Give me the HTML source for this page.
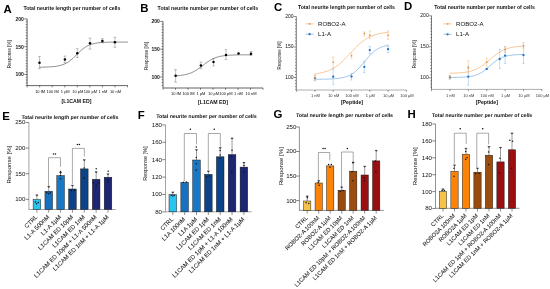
<!DOCTYPE html>
<html><head><meta charset="utf-8"><style>
html,body{margin:0;padding:0;background:#fff;}
svg{display:block;will-change:transform;}
text{font-family:"Liberation Sans", sans-serif;}
</style></head><body>
<svg width="550" height="289" viewBox="0 0 550 289">
<rect width="550" height="289" fill="#fff"/>
<line x1="27.1" y1="18.9" x2="27.1" y2="85.6" stroke="#111" stroke-width="0.65"/>
<line x1="25.8" y1="85.62" x2="27.1" y2="85.62" stroke="#111" stroke-width="0.5"/>
<line x1="25.8" y1="82.84" x2="27.1" y2="82.84" stroke="#111" stroke-width="0.5"/>
<line x1="25.8" y1="80.06" x2="27.1" y2="80.06" stroke="#111" stroke-width="0.5"/>
<line x1="25.8" y1="77.28" x2="27.1" y2="77.28" stroke="#111" stroke-width="0.5"/>
<line x1="24.3" y1="74.5" x2="27.1" y2="74.5" stroke="#111" stroke-width="0.55"/>
<text x="23.9" y="76.3" font-size="5" font-weight="bold" text-anchor="end" fill="#111" >100</text>
<line x1="25.8" y1="71.72" x2="27.1" y2="71.72" stroke="#111" stroke-width="0.5"/>
<line x1="25.8" y1="68.94" x2="27.1" y2="68.94" stroke="#111" stroke-width="0.5"/>
<line x1="25.8" y1="66.16" x2="27.1" y2="66.16" stroke="#111" stroke-width="0.5"/>
<line x1="25.8" y1="63.38" x2="27.1" y2="63.38" stroke="#111" stroke-width="0.5"/>
<line x1="25.8" y1="60.6" x2="27.1" y2="60.6" stroke="#111" stroke-width="0.5"/>
<line x1="25.8" y1="57.82" x2="27.1" y2="57.82" stroke="#111" stroke-width="0.5"/>
<line x1="25.8" y1="55.04" x2="27.1" y2="55.04" stroke="#111" stroke-width="0.5"/>
<line x1="25.8" y1="52.26" x2="27.1" y2="52.26" stroke="#111" stroke-width="0.5"/>
<line x1="25.8" y1="49.48" x2="27.1" y2="49.48" stroke="#111" stroke-width="0.5"/>
<line x1="24.3" y1="46.7" x2="27.1" y2="46.7" stroke="#111" stroke-width="0.55"/>
<text x="23.9" y="48.5" font-size="5" font-weight="bold" text-anchor="end" fill="#111" >150</text>
<line x1="25.8" y1="43.92" x2="27.1" y2="43.92" stroke="#111" stroke-width="0.5"/>
<line x1="25.8" y1="41.14" x2="27.1" y2="41.14" stroke="#111" stroke-width="0.5"/>
<line x1="25.8" y1="38.36" x2="27.1" y2="38.36" stroke="#111" stroke-width="0.5"/>
<line x1="25.8" y1="35.58" x2="27.1" y2="35.58" stroke="#111" stroke-width="0.5"/>
<line x1="25.8" y1="32.8" x2="27.1" y2="32.8" stroke="#111" stroke-width="0.5"/>
<line x1="25.8" y1="30.02" x2="27.1" y2="30.02" stroke="#111" stroke-width="0.5"/>
<line x1="25.8" y1="27.24" x2="27.1" y2="27.24" stroke="#111" stroke-width="0.5"/>
<line x1="25.8" y1="24.46" x2="27.1" y2="24.46" stroke="#111" stroke-width="0.5"/>
<line x1="25.8" y1="21.68" x2="27.1" y2="21.68" stroke="#111" stroke-width="0.5"/>
<line x1="24.3" y1="18.9" x2="27.1" y2="18.9" stroke="#111" stroke-width="0.55"/>
<text x="23.9" y="20.7" font-size="5" font-weight="bold" text-anchor="end" fill="#111" >200</text>
<line x1="27.1" y1="85.6" x2="127.8" y2="85.6" stroke="#111" stroke-width="0.65"/>
<line x1="27.1" y1="85.6" x2="27.1" y2="87.4" stroke="#111" stroke-width="0.5"/>
<line x1="39.65" y1="85.6" x2="39.65" y2="87.4" stroke="#111" stroke-width="0.5"/>
<line x1="52.2" y1="85.6" x2="52.2" y2="87.4" stroke="#111" stroke-width="0.5"/>
<line x1="64.75" y1="85.6" x2="64.75" y2="87.4" stroke="#111" stroke-width="0.5"/>
<line x1="77.3" y1="85.6" x2="77.3" y2="87.4" stroke="#111" stroke-width="0.5"/>
<line x1="89.85" y1="85.6" x2="89.85" y2="87.4" stroke="#111" stroke-width="0.5"/>
<line x1="102.4" y1="85.6" x2="102.4" y2="87.4" stroke="#111" stroke-width="0.5"/>
<line x1="114.95" y1="85.6" x2="114.95" y2="87.4" stroke="#111" stroke-width="0.5"/>
<line x1="127.5" y1="85.6" x2="127.5" y2="87.4" stroke="#111" stroke-width="0.5"/>
<text x="40.15" y="92.9" font-size="4" font-weight="normal" text-anchor="middle" fill="#111" >10 fM</text>
<text x="52.7" y="92.9" font-size="4" font-weight="normal" text-anchor="middle" fill="#111" >100 fM</text>
<text x="65.25" y="92.9" font-size="4" font-weight="normal" text-anchor="middle" fill="#111" >1 pM</text>
<text x="77.8" y="92.9" font-size="4" font-weight="normal" text-anchor="middle" fill="#111" >10 pM</text>
<text x="90.35" y="92.9" font-size="4" font-weight="normal" text-anchor="middle" fill="#111" >100 pM</text>
<text x="102.9" y="92.9" font-size="4" font-weight="normal" text-anchor="middle" fill="#111" >1 nM</text>
<text x="115.45" y="92.9" font-size="4" font-weight="normal" text-anchor="middle" fill="#111" >10 nM</text>
<text x="76.5" y="102.9" font-size="5.2" font-weight="bold" text-anchor="middle" fill="#111" >[L1CAM ED]</text>
<text transform="translate(10.6,54.3) rotate(-90)" font-size="4.5" text-anchor="middle" fill="#111">Response [%]</text>
<text x="23.4" y="10.1" font-size="5.2" font-weight="bold" text-anchor="start" fill="#111" >Total neurite length per number of cells</text>
<text x="3.6" y="12.8" font-size="11.4" font-weight="bold" text-anchor="start" fill="#000" >A</text>
<path d="M39.5,67.17 L40.98,67.15 L42.45,67.13 L43.92,67.1 L45.4,67.06 L46.88,67.01 L48.35,66.95 L49.83,66.88 L51.3,66.79 L52.77,66.67 L54.25,66.53 L55.73,66.35 L57.2,66.12 L58.67,65.85 L60.15,65.51 L61.62,65.09 L63.1,64.58 L64.58,63.98 L66.05,63.26 L67.53,62.41 L69,61.44 L70.47,60.33 L71.95,59.11 L73.42,57.77 L74.9,56.36 L76.38,54.9 L77.85,53.44 L79.33,52.01 L80.8,50.64 L82.28,49.37 L83.75,48.22 L85.22,47.2 L86.7,46.31 L88.17,45.55 L89.65,44.9 L91.12,44.36 L92.6,43.91 L94.08,43.55 L95.55,43.25 L97.03,43.01 L98.5,42.81 L99.97,42.66 L101.45,42.53 L102.92,42.43 L104.4,42.35 L105.88,42.29 L107.35,42.24 L108.83,42.2 L110.3,42.16 L111.78,42.14 L113.25,42.12 L114.72,42.1 L116.2,42.09 L117.67,42.08 L119.15,42.07 L120.62,42.06 L122.1,42.06 L123.58,42.06 L125.05,42.05 L126.53,42.05 L128,42.05" fill="none" stroke="#333" stroke-width="0.55"/>
<line x1="39.5" y1="56.4" x2="39.5" y2="68.5" stroke="#666" stroke-width="0.4"/>
<line x1="38.1" y1="56.4" x2="40.9" y2="56.4" stroke="#666" stroke-width="0.4"/>
<line x1="38.1" y1="68.5" x2="40.9" y2="68.5" stroke="#666" stroke-width="0.4"/>
<circle cx="39.5" cy="62.7" r="1.25" fill="#000"/>
<line x1="64.9" y1="56" x2="64.9" y2="62.7" stroke="#666" stroke-width="0.4"/>
<line x1="63.5" y1="56" x2="66.3" y2="56" stroke="#666" stroke-width="0.4"/>
<line x1="63.5" y1="62.7" x2="66.3" y2="62.7" stroke="#666" stroke-width="0.4"/>
<circle cx="64.9" cy="59.6" r="1.25" fill="#000"/>
<line x1="77.3" y1="48.7" x2="77.3" y2="57.6" stroke="#666" stroke-width="0.4"/>
<line x1="75.9" y1="48.7" x2="78.7" y2="48.7" stroke="#666" stroke-width="0.4"/>
<line x1="75.9" y1="57.6" x2="78.7" y2="57.6" stroke="#666" stroke-width="0.4"/>
<circle cx="77.3" cy="53.3" r="1.25" fill="#000"/>
<line x1="90" y1="38.2" x2="90" y2="49.1" stroke="#666" stroke-width="0.4"/>
<line x1="88.6" y1="38.2" x2="91.4" y2="38.2" stroke="#666" stroke-width="0.4"/>
<line x1="88.6" y1="49.1" x2="91.4" y2="49.1" stroke="#666" stroke-width="0.4"/>
<circle cx="90" cy="43.3" r="1.25" fill="#000"/>
<line x1="102.4" y1="38.7" x2="102.4" y2="42.7" stroke="#666" stroke-width="0.4"/>
<line x1="101" y1="38.7" x2="103.8" y2="38.7" stroke="#666" stroke-width="0.4"/>
<line x1="101" y1="42.7" x2="103.8" y2="42.7" stroke="#666" stroke-width="0.4"/>
<circle cx="102.4" cy="40.9" r="1.25" fill="#000"/>
<line x1="114.9" y1="37.3" x2="114.9" y2="47.3" stroke="#666" stroke-width="0.4"/>
<line x1="113.5" y1="37.3" x2="116.3" y2="37.3" stroke="#666" stroke-width="0.4"/>
<line x1="113.5" y1="47.3" x2="116.3" y2="47.3" stroke="#666" stroke-width="0.4"/>
<circle cx="114.9" cy="42.2" r="1.25" fill="#000"/>
<line x1="163" y1="21.4" x2="163" y2="88" stroke="#111" stroke-width="0.65"/>
<line x1="161.7" y1="85.34" x2="163" y2="85.34" stroke="#111" stroke-width="0.5"/>
<line x1="161.7" y1="82.56" x2="163" y2="82.56" stroke="#111" stroke-width="0.5"/>
<line x1="161.7" y1="79.78" x2="163" y2="79.78" stroke="#111" stroke-width="0.5"/>
<line x1="160.2" y1="77" x2="163" y2="77" stroke="#111" stroke-width="0.55"/>
<text x="159.8" y="78.8" font-size="5" font-weight="bold" text-anchor="end" fill="#111" >100</text>
<line x1="161.7" y1="74.22" x2="163" y2="74.22" stroke="#111" stroke-width="0.5"/>
<line x1="161.7" y1="71.44" x2="163" y2="71.44" stroke="#111" stroke-width="0.5"/>
<line x1="161.7" y1="68.66" x2="163" y2="68.66" stroke="#111" stroke-width="0.5"/>
<line x1="161.7" y1="65.88" x2="163" y2="65.88" stroke="#111" stroke-width="0.5"/>
<line x1="161.7" y1="63.1" x2="163" y2="63.1" stroke="#111" stroke-width="0.5"/>
<line x1="161.7" y1="60.32" x2="163" y2="60.32" stroke="#111" stroke-width="0.5"/>
<line x1="161.7" y1="57.54" x2="163" y2="57.54" stroke="#111" stroke-width="0.5"/>
<line x1="161.7" y1="54.76" x2="163" y2="54.76" stroke="#111" stroke-width="0.5"/>
<line x1="161.7" y1="51.98" x2="163" y2="51.98" stroke="#111" stroke-width="0.5"/>
<line x1="160.2" y1="49.2" x2="163" y2="49.2" stroke="#111" stroke-width="0.55"/>
<text x="159.8" y="51" font-size="5" font-weight="bold" text-anchor="end" fill="#111" >150</text>
<line x1="161.7" y1="46.42" x2="163" y2="46.42" stroke="#111" stroke-width="0.5"/>
<line x1="161.7" y1="43.64" x2="163" y2="43.64" stroke="#111" stroke-width="0.5"/>
<line x1="161.7" y1="40.86" x2="163" y2="40.86" stroke="#111" stroke-width="0.5"/>
<line x1="161.7" y1="38.08" x2="163" y2="38.08" stroke="#111" stroke-width="0.5"/>
<line x1="161.7" y1="35.3" x2="163" y2="35.3" stroke="#111" stroke-width="0.5"/>
<line x1="161.7" y1="32.52" x2="163" y2="32.52" stroke="#111" stroke-width="0.5"/>
<line x1="161.7" y1="29.74" x2="163" y2="29.74" stroke="#111" stroke-width="0.5"/>
<line x1="161.7" y1="26.96" x2="163" y2="26.96" stroke="#111" stroke-width="0.5"/>
<line x1="161.7" y1="24.18" x2="163" y2="24.18" stroke="#111" stroke-width="0.5"/>
<line x1="160.2" y1="21.4" x2="163" y2="21.4" stroke="#111" stroke-width="0.55"/>
<text x="159.8" y="23.2" font-size="5" font-weight="bold" text-anchor="end" fill="#111" >200</text>
<line x1="163" y1="88" x2="263" y2="88" stroke="#111" stroke-width="0.65"/>
<line x1="163" y1="88" x2="163" y2="89.8" stroke="#111" stroke-width="0.5"/>
<line x1="175.5" y1="88" x2="175.5" y2="89.8" stroke="#111" stroke-width="0.5"/>
<line x1="188" y1="88" x2="188" y2="89.8" stroke="#111" stroke-width="0.5"/>
<line x1="200.5" y1="88" x2="200.5" y2="89.8" stroke="#111" stroke-width="0.5"/>
<line x1="213" y1="88" x2="213" y2="89.8" stroke="#111" stroke-width="0.5"/>
<line x1="225.5" y1="88" x2="225.5" y2="89.8" stroke="#111" stroke-width="0.5"/>
<line x1="238" y1="88" x2="238" y2="89.8" stroke="#111" stroke-width="0.5"/>
<line x1="250.5" y1="88" x2="250.5" y2="89.8" stroke="#111" stroke-width="0.5"/>
<line x1="263" y1="88" x2="263" y2="89.8" stroke="#111" stroke-width="0.5"/>
<text x="176" y="95" font-size="4" font-weight="normal" text-anchor="middle" fill="#111" >10 fM</text>
<text x="188.5" y="95" font-size="4" font-weight="normal" text-anchor="middle" fill="#111" >100 fM</text>
<text x="201" y="95" font-size="4" font-weight="normal" text-anchor="middle" fill="#111" >1 pM</text>
<text x="213.5" y="95" font-size="4" font-weight="normal" text-anchor="middle" fill="#111" >10 pM</text>
<text x="226" y="95" font-size="4" font-weight="normal" text-anchor="middle" fill="#111" >100 pM</text>
<text x="238.5" y="95" font-size="4" font-weight="normal" text-anchor="middle" fill="#111" >1 nM</text>
<text x="251" y="95" font-size="4" font-weight="normal" text-anchor="middle" fill="#111" >10 nM</text>
<text x="213" y="104.2" font-size="5.2" font-weight="bold" text-anchor="middle" fill="#111" >[L1CAM ED]</text>
<text transform="translate(147.5,56.1) rotate(-90)" font-size="4.5" text-anchor="middle" fill="#111">Response [%]</text>
<text x="157.6" y="10" font-size="5.2" font-weight="bold" text-anchor="start" fill="#111" >Total neurite number per number of cells</text>
<text x="140.3" y="12.3" font-size="11.4" font-weight="bold" text-anchor="start" fill="#000" >B</text>
<path d="M175.6,75.79 L176.86,75.71 L178.11,75.62 L179.37,75.5 L180.63,75.37 L181.88,75.21 L183.14,75.02 L184.4,74.8 L185.65,74.54 L186.91,74.24 L188.17,73.88 L189.42,73.48 L190.68,73.02 L191.94,72.5 L193.19,71.9 L194.45,71.25 L195.71,70.52 L196.96,69.73 L198.22,68.88 L199.48,67.99 L200.73,67.05 L201.99,66.09 L203.25,65.12 L204.5,64.15 L205.76,63.21 L207.02,62.3 L208.27,61.44 L209.53,60.63 L210.79,59.89 L212.04,59.22 L213.3,58.61 L214.56,58.07 L215.81,57.59 L217.07,57.18 L218.33,56.81 L219.58,56.5 L220.84,56.23 L222.1,56 L223.35,55.81 L224.61,55.64 L225.87,55.5 L227.12,55.38 L228.38,55.28 L229.64,55.2 L230.89,55.12 L232.15,55.06 L233.41,55.01 L234.66,54.97 L235.92,54.94 L237.18,54.91 L238.43,54.88 L239.69,54.86 L240.95,54.85 L242.2,54.83 L243.46,54.82 L244.72,54.81 L245.97,54.8 L247.23,54.8 L248.49,54.79 L249.74,54.78 L251,54.78" fill="none" stroke="#333" stroke-width="0.55"/>
<line x1="175.6" y1="69.6" x2="175.6" y2="82.1" stroke="#666" stroke-width="0.4"/>
<line x1="174.2" y1="69.6" x2="177" y2="69.6" stroke="#666" stroke-width="0.4"/>
<line x1="174.2" y1="82.1" x2="177" y2="82.1" stroke="#666" stroke-width="0.4"/>
<circle cx="175.6" cy="75.8" r="1.25" fill="#000"/>
<line x1="200.9" y1="62.1" x2="200.9" y2="68.6" stroke="#666" stroke-width="0.4"/>
<line x1="199.5" y1="62.1" x2="202.3" y2="62.1" stroke="#666" stroke-width="0.4"/>
<line x1="199.5" y1="68.6" x2="202.3" y2="68.6" stroke="#666" stroke-width="0.4"/>
<circle cx="200.9" cy="65.5" r="1.25" fill="#000"/>
<line x1="213.5" y1="58.6" x2="213.5" y2="65.9" stroke="#666" stroke-width="0.4"/>
<line x1="212.1" y1="58.6" x2="214.9" y2="58.6" stroke="#666" stroke-width="0.4"/>
<line x1="212.1" y1="65.9" x2="214.9" y2="65.9" stroke="#666" stroke-width="0.4"/>
<circle cx="213.5" cy="62.1" r="1.25" fill="#000"/>
<line x1="226" y1="49.6" x2="226" y2="59.6" stroke="#666" stroke-width="0.4"/>
<line x1="224.6" y1="49.6" x2="227.4" y2="49.6" stroke="#666" stroke-width="0.4"/>
<line x1="224.6" y1="59.6" x2="227.4" y2="59.6" stroke="#666" stroke-width="0.4"/>
<circle cx="226" cy="54.9" r="1.25" fill="#000"/>
<circle cx="238.5" cy="53.4" r="1.25" fill="#000"/>
<line x1="251" y1="51.4" x2="251" y2="55.6" stroke="#666" stroke-width="0.4"/>
<line x1="249.6" y1="51.4" x2="252.4" y2="51.4" stroke="#666" stroke-width="0.4"/>
<line x1="249.6" y1="55.6" x2="252.4" y2="55.6" stroke="#666" stroke-width="0.4"/>
<circle cx="251" cy="53.8" r="1.25" fill="#000"/>
<line x1="296.3" y1="16.5" x2="296.3" y2="90" stroke="#333" stroke-width="0.65"/>
<line x1="295" y1="89.7" x2="296.3" y2="89.7" stroke="#333" stroke-width="0.5"/>
<line x1="295" y1="86.65" x2="296.3" y2="86.65" stroke="#333" stroke-width="0.5"/>
<line x1="295" y1="83.6" x2="296.3" y2="83.6" stroke="#333" stroke-width="0.5"/>
<line x1="295" y1="80.55" x2="296.3" y2="80.55" stroke="#333" stroke-width="0.5"/>
<line x1="293.5" y1="77.5" x2="296.3" y2="77.5" stroke="#333" stroke-width="0.55"/>
<text x="293.5" y="78.7" font-size="5" font-weight="normal" text-anchor="end" fill="#111" >100</text>
<line x1="295" y1="74.45" x2="296.3" y2="74.45" stroke="#333" stroke-width="0.5"/>
<line x1="295" y1="71.4" x2="296.3" y2="71.4" stroke="#333" stroke-width="0.5"/>
<line x1="295" y1="68.35" x2="296.3" y2="68.35" stroke="#333" stroke-width="0.5"/>
<line x1="295" y1="65.3" x2="296.3" y2="65.3" stroke="#333" stroke-width="0.5"/>
<line x1="295" y1="62.25" x2="296.3" y2="62.25" stroke="#333" stroke-width="0.5"/>
<line x1="295" y1="59.2" x2="296.3" y2="59.2" stroke="#333" stroke-width="0.5"/>
<line x1="295" y1="56.15" x2="296.3" y2="56.15" stroke="#333" stroke-width="0.5"/>
<line x1="295" y1="53.1" x2="296.3" y2="53.1" stroke="#333" stroke-width="0.5"/>
<line x1="295" y1="50.05" x2="296.3" y2="50.05" stroke="#333" stroke-width="0.5"/>
<line x1="293.5" y1="47" x2="296.3" y2="47" stroke="#333" stroke-width="0.55"/>
<text x="293.5" y="48.2" font-size="5" font-weight="normal" text-anchor="end" fill="#111" >150</text>
<line x1="295" y1="43.95" x2="296.3" y2="43.95" stroke="#333" stroke-width="0.5"/>
<line x1="295" y1="40.9" x2="296.3" y2="40.9" stroke="#333" stroke-width="0.5"/>
<line x1="295" y1="37.85" x2="296.3" y2="37.85" stroke="#333" stroke-width="0.5"/>
<line x1="295" y1="34.8" x2="296.3" y2="34.8" stroke="#333" stroke-width="0.5"/>
<line x1="295" y1="31.75" x2="296.3" y2="31.75" stroke="#333" stroke-width="0.5"/>
<line x1="295" y1="28.7" x2="296.3" y2="28.7" stroke="#333" stroke-width="0.5"/>
<line x1="295" y1="25.65" x2="296.3" y2="25.65" stroke="#333" stroke-width="0.5"/>
<line x1="295" y1="22.6" x2="296.3" y2="22.6" stroke="#333" stroke-width="0.5"/>
<line x1="295" y1="19.55" x2="296.3" y2="19.55" stroke="#333" stroke-width="0.5"/>
<line x1="293.5" y1="16.5" x2="296.3" y2="16.5" stroke="#333" stroke-width="0.55"/>
<text x="293.5" y="17.7" font-size="5" font-weight="normal" text-anchor="end" fill="#111" >200</text>
<line x1="296.3" y1="90" x2="406.6" y2="90" stroke="#999" stroke-width="0.8"/>
<line x1="296.6" y1="90" x2="296.6" y2="91.8" stroke="#333" stroke-width="0.5"/>
<line x1="314.9" y1="90" x2="314.9" y2="91.8" stroke="#333" stroke-width="0.5"/>
<line x1="333.2" y1="90" x2="333.2" y2="91.8" stroke="#333" stroke-width="0.5"/>
<line x1="351.5" y1="90" x2="351.5" y2="91.8" stroke="#333" stroke-width="0.5"/>
<line x1="369.8" y1="90" x2="369.8" y2="91.8" stroke="#333" stroke-width="0.5"/>
<line x1="388.1" y1="90" x2="388.1" y2="91.8" stroke="#333" stroke-width="0.5"/>
<line x1="406.4" y1="90" x2="406.4" y2="91.8" stroke="#333" stroke-width="0.5"/>
<text x="315.4" y="97.3" font-size="4" font-weight="normal" text-anchor="middle" fill="#333" >1 nM</text>
<text x="333.7" y="97.3" font-size="4" font-weight="normal" text-anchor="middle" fill="#333" >10 nM</text>
<text x="352" y="97.3" font-size="4" font-weight="normal" text-anchor="middle" fill="#333" >100 nM</text>
<text x="370.3" y="97.3" font-size="4" font-weight="normal" text-anchor="middle" fill="#333" >1 µM</text>
<text x="388.6" y="97.3" font-size="4" font-weight="normal" text-anchor="middle" fill="#333" >10 µM</text>
<text x="406.9" y="97.3" font-size="4" font-weight="normal" text-anchor="middle" fill="#333" >100 µM</text>
<text x="352" y="104.2" font-size="5.2" font-weight="bold" text-anchor="middle" fill="#111" >[Peptide]</text>
<text transform="translate(280.9,55.5) rotate(-90)" font-size="4.5" text-anchor="middle" fill="#111">Response [%]</text>
<text x="297.9" y="9.2" font-size="5.2" font-weight="bold" text-anchor="start" fill="#111" >Total neurite length per number of cells</text>
<text x="274" y="10.9" font-size="11.4" font-weight="bold" text-anchor="start" fill="#000" >C</text>
<line x1="305.6" y1="23.9" x2="313.6" y2="23.9" stroke="#F5A04F" stroke-width="0.6"/>
<rect x="308.9" y="23.2" width="1.4" height="1.4" fill="#F08A24"/>
<text x="318.1" y="26.05" font-size="6.1" font-weight="normal" text-anchor="start" fill="#111" >ROBO2-A</text>
<line x1="305.6" y1="34.2" x2="313.6" y2="34.2" stroke="#5D9FDD" stroke-width="0.6"/>
<circle cx="309.6" cy="34.2" r="1.15" fill="#1F6FC5"/>
<text x="318.1" y="36.35" font-size="6.1" font-weight="normal" text-anchor="start" fill="#111" >L1-A</text>
<path d="M314.9,73.87 L316.13,73.71 L317.36,73.53 L318.59,73.32 L319.82,73.09 L321.05,72.83 L322.28,72.55 L323.51,72.23 L324.74,71.88 L325.97,71.49 L327.2,71.06 L328.43,70.58 L329.66,70.06 L330.89,69.49 L332.12,68.86 L333.35,68.18 L334.58,67.44 L335.81,66.63 L337.04,65.77 L338.27,64.85 L339.5,63.86 L340.73,62.82 L341.96,61.72 L343.19,60.56 L344.42,59.36 L345.65,58.12 L346.88,56.85 L348.11,55.55 L349.34,54.23 L350.57,52.91 L351.8,51.58 L353.03,50.27 L354.26,48.99 L355.49,47.73 L356.72,46.51 L357.95,45.33 L359.18,44.2 L360.41,43.13 L361.64,42.12 L362.87,41.16 L364.1,40.27 L365.33,39.44 L366.56,38.67 L367.79,37.96 L369.02,37.31 L370.25,36.71 L371.48,36.16 L372.71,35.66 L373.94,35.21 L375.17,34.8 L376.4,34.43 L377.63,34.1 L378.86,33.8 L380.09,33.53 L381.32,33.29 L382.55,33.07 L383.78,32.88 L385.01,32.7 L386.24,32.55 L387.47,32.41 L388.7,32.29" fill="none" stroke="#F5A04F" stroke-width="0.6"/>
<path d="M314.9,79.26 L316.13,79.25 L317.36,79.25 L318.59,79.24 L319.82,79.22 L321.05,79.21 L322.28,79.19 L323.51,79.18 L324.74,79.15 L325.97,79.13 L327.2,79.09 L328.43,79.06 L329.66,79.01 L330.89,78.96 L332.12,78.9 L333.35,78.82 L334.58,78.74 L335.81,78.63 L337.04,78.51 L338.27,78.37 L339.5,78.21 L340.73,78.01 L341.96,77.79 L343.19,77.52 L344.42,77.22 L345.65,76.86 L346.88,76.45 L348.11,75.97 L349.34,75.42 L350.57,74.8 L351.8,74.1 L353.03,73.3 L354.26,72.41 L355.49,71.42 L356.72,70.34 L357.95,69.17 L359.18,67.9 L360.41,66.56 L361.64,65.15 L362.87,63.69 L364.1,62.21 L365.33,60.71 L366.56,59.23 L367.79,57.78 L369.02,56.39 L370.25,55.06 L371.48,53.81 L372.71,52.65 L373.94,51.58 L375.17,50.62 L376.4,49.74 L377.63,48.97 L378.86,48.28 L380.09,47.67 L381.32,47.14 L382.55,46.67 L383.78,46.27 L385.01,45.92 L386.24,45.62 L387.47,45.37 L388.7,45.15" fill="none" stroke="#5D9FDD" stroke-width="0.6"/>
<line x1="314.9" y1="75.5" x2="314.9" y2="80.5" stroke="#7BB0E4" stroke-width="0.45"/>
<line x1="313.7" y1="75.5" x2="316.1" y2="75.5" stroke="#7BB0E4" stroke-width="0.45"/>
<line x1="313.7" y1="80.5" x2="316.1" y2="80.5" stroke="#7BB0E4" stroke-width="0.45"/>
<circle cx="314.9" cy="78.2" r="1.15" fill="#1F6FC5"/>
<line x1="333.2" y1="69.1" x2="333.2" y2="84.4" stroke="#7BB0E4" stroke-width="0.45"/>
<line x1="332" y1="69.1" x2="334.4" y2="69.1" stroke="#7BB0E4" stroke-width="0.45"/>
<line x1="332" y1="84.4" x2="334.4" y2="84.4" stroke="#7BB0E4" stroke-width="0.45"/>
<circle cx="333.2" cy="76.7" r="1.15" fill="#1F6FC5"/>
<line x1="351.5" y1="73.5" x2="351.5" y2="80" stroke="#7BB0E4" stroke-width="0.45"/>
<line x1="350.3" y1="73.5" x2="352.7" y2="73.5" stroke="#7BB0E4" stroke-width="0.45"/>
<line x1="350.3" y1="80" x2="352.7" y2="80" stroke="#7BB0E4" stroke-width="0.45"/>
<circle cx="351.5" cy="76.5" r="1.15" fill="#1F6FC5"/>
<line x1="364.3" y1="61.3" x2="364.3" y2="72.6" stroke="#7BB0E4" stroke-width="0.45"/>
<line x1="363.1" y1="61.3" x2="365.5" y2="61.3" stroke="#7BB0E4" stroke-width="0.45"/>
<line x1="363.1" y1="72.6" x2="365.5" y2="72.6" stroke="#7BB0E4" stroke-width="0.45"/>
<circle cx="364.3" cy="66.9" r="1.15" fill="#1F6FC5"/>
<line x1="369.8" y1="46.6" x2="369.8" y2="53.5" stroke="#7BB0E4" stroke-width="0.45"/>
<line x1="368.6" y1="46.6" x2="371" y2="46.6" stroke="#7BB0E4" stroke-width="0.45"/>
<line x1="368.6" y1="53.5" x2="371" y2="53.5" stroke="#7BB0E4" stroke-width="0.45"/>
<circle cx="369.8" cy="50.1" r="1.15" fill="#1F6FC5"/>
<line x1="388.1" y1="46.5" x2="388.1" y2="52.5" stroke="#7BB0E4" stroke-width="0.45"/>
<line x1="386.9" y1="46.5" x2="389.3" y2="46.5" stroke="#7BB0E4" stroke-width="0.45"/>
<line x1="386.9" y1="52.5" x2="389.3" y2="52.5" stroke="#7BB0E4" stroke-width="0.45"/>
<circle cx="388.1" cy="49.2" r="1.15" fill="#1F6FC5"/>
<line x1="314.9" y1="74.7" x2="314.9" y2="80.9" stroke="#F3B27A" stroke-width="0.45"/>
<line x1="313.7" y1="74.7" x2="316.1" y2="74.7" stroke="#F3B27A" stroke-width="0.45"/>
<line x1="313.7" y1="80.9" x2="316.1" y2="80.9" stroke="#F3B27A" stroke-width="0.45"/>
<rect x="314.15" y="76.95" width="1.5" height="1.5" fill="#F08A24"/>
<line x1="333.2" y1="57" x2="333.2" y2="67.4" stroke="#F3B27A" stroke-width="0.45"/>
<line x1="332" y1="57" x2="334.4" y2="57" stroke="#F3B27A" stroke-width="0.45"/>
<line x1="332" y1="67.4" x2="334.4" y2="67.4" stroke="#F3B27A" stroke-width="0.45"/>
<rect x="332.45" y="61.45" width="1.5" height="1.5" fill="#F08A24"/>
<line x1="351.5" y1="53.5" x2="351.5" y2="58.5" stroke="#F3B27A" stroke-width="0.45"/>
<line x1="350.3" y1="53.5" x2="352.7" y2="53.5" stroke="#F3B27A" stroke-width="0.45"/>
<line x1="350.3" y1="58.5" x2="352.7" y2="58.5" stroke="#F3B27A" stroke-width="0.45"/>
<rect x="350.75" y="55.05" width="1.5" height="1.5" fill="#F08A24"/>
<line x1="364.3" y1="31.9" x2="364.3" y2="36.2" stroke="#F3B27A" stroke-width="0.45"/>
<line x1="363.1" y1="31.9" x2="365.5" y2="31.9" stroke="#F3B27A" stroke-width="0.45"/>
<line x1="363.1" y1="36.2" x2="365.5" y2="36.2" stroke="#F3B27A" stroke-width="0.45"/>
<rect x="363.55" y="32.95" width="1.5" height="1.5" fill="#F08A24"/>
<line x1="369.8" y1="31" x2="369.8" y2="38.8" stroke="#F3B27A" stroke-width="0.45"/>
<line x1="368.6" y1="31" x2="371" y2="31" stroke="#F3B27A" stroke-width="0.45"/>
<line x1="368.6" y1="38.8" x2="371" y2="38.8" stroke="#F3B27A" stroke-width="0.45"/>
<rect x="369.05" y="34.65" width="1.5" height="1.5" fill="#F08A24"/>
<line x1="388.1" y1="31" x2="388.1" y2="39.5" stroke="#F3B27A" stroke-width="0.45"/>
<line x1="386.9" y1="31" x2="389.3" y2="31" stroke="#F3B27A" stroke-width="0.45"/>
<line x1="386.9" y1="39.5" x2="389.3" y2="39.5" stroke="#F3B27A" stroke-width="0.45"/>
<rect x="387.35" y="34.65" width="1.5" height="1.5" fill="#F08A24"/>
<line x1="431.5" y1="15.8" x2="431.5" y2="89.4" stroke="#333" stroke-width="0.65"/>
<line x1="430.2" y1="87.1" x2="431.5" y2="87.1" stroke="#333" stroke-width="0.5"/>
<line x1="430.2" y1="84" x2="431.5" y2="84" stroke="#333" stroke-width="0.5"/>
<line x1="430.2" y1="80.9" x2="431.5" y2="80.9" stroke="#333" stroke-width="0.5"/>
<line x1="428.7" y1="77.8" x2="431.5" y2="77.8" stroke="#333" stroke-width="0.55"/>
<text x="428.7" y="79" font-size="5" font-weight="normal" text-anchor="end" fill="#111" >100</text>
<line x1="430.2" y1="74.7" x2="431.5" y2="74.7" stroke="#333" stroke-width="0.5"/>
<line x1="430.2" y1="71.6" x2="431.5" y2="71.6" stroke="#333" stroke-width="0.5"/>
<line x1="430.2" y1="68.5" x2="431.5" y2="68.5" stroke="#333" stroke-width="0.5"/>
<line x1="430.2" y1="65.4" x2="431.5" y2="65.4" stroke="#333" stroke-width="0.5"/>
<line x1="430.2" y1="62.3" x2="431.5" y2="62.3" stroke="#333" stroke-width="0.5"/>
<line x1="430.2" y1="59.2" x2="431.5" y2="59.2" stroke="#333" stroke-width="0.5"/>
<line x1="430.2" y1="56.1" x2="431.5" y2="56.1" stroke="#333" stroke-width="0.5"/>
<line x1="430.2" y1="53" x2="431.5" y2="53" stroke="#333" stroke-width="0.5"/>
<line x1="430.2" y1="49.9" x2="431.5" y2="49.9" stroke="#333" stroke-width="0.5"/>
<line x1="428.7" y1="46.8" x2="431.5" y2="46.8" stroke="#333" stroke-width="0.55"/>
<text x="428.7" y="48" font-size="5" font-weight="normal" text-anchor="end" fill="#111" >150</text>
<line x1="430.2" y1="43.7" x2="431.5" y2="43.7" stroke="#333" stroke-width="0.5"/>
<line x1="430.2" y1="40.6" x2="431.5" y2="40.6" stroke="#333" stroke-width="0.5"/>
<line x1="430.2" y1="37.5" x2="431.5" y2="37.5" stroke="#333" stroke-width="0.5"/>
<line x1="430.2" y1="34.4" x2="431.5" y2="34.4" stroke="#333" stroke-width="0.5"/>
<line x1="430.2" y1="31.3" x2="431.5" y2="31.3" stroke="#333" stroke-width="0.5"/>
<line x1="430.2" y1="28.2" x2="431.5" y2="28.2" stroke="#333" stroke-width="0.5"/>
<line x1="430.2" y1="25.1" x2="431.5" y2="25.1" stroke="#333" stroke-width="0.5"/>
<line x1="430.2" y1="22" x2="431.5" y2="22" stroke="#333" stroke-width="0.5"/>
<line x1="430.2" y1="18.9" x2="431.5" y2="18.9" stroke="#333" stroke-width="0.5"/>
<line x1="428.7" y1="15.8" x2="431.5" y2="15.8" stroke="#333" stroke-width="0.55"/>
<text x="428.7" y="17" font-size="5" font-weight="normal" text-anchor="end" fill="#111" >200</text>
<line x1="431.5" y1="89.4" x2="542.3" y2="89.4" stroke="#999" stroke-width="0.8"/>
<line x1="431.5" y1="89.4" x2="431.5" y2="91.2" stroke="#333" stroke-width="0.5"/>
<line x1="449.9" y1="89.4" x2="449.9" y2="91.2" stroke="#333" stroke-width="0.5"/>
<line x1="468.3" y1="89.4" x2="468.3" y2="91.2" stroke="#333" stroke-width="0.5"/>
<line x1="486.7" y1="89.4" x2="486.7" y2="91.2" stroke="#333" stroke-width="0.5"/>
<line x1="505.1" y1="89.4" x2="505.1" y2="91.2" stroke="#333" stroke-width="0.5"/>
<line x1="523.5" y1="89.4" x2="523.5" y2="91.2" stroke="#333" stroke-width="0.5"/>
<line x1="541.9" y1="89.4" x2="541.9" y2="91.2" stroke="#333" stroke-width="0.5"/>
<text x="450.4" y="97.3" font-size="4" font-weight="normal" text-anchor="middle" fill="#333" >1 nM</text>
<text x="468.8" y="97.3" font-size="4" font-weight="normal" text-anchor="middle" fill="#333" >10 nM</text>
<text x="487.2" y="97.3" font-size="4" font-weight="normal" text-anchor="middle" fill="#333" >100 nM</text>
<text x="505.6" y="97.3" font-size="4" font-weight="normal" text-anchor="middle" fill="#333" >1 µM</text>
<text x="524" y="97.3" font-size="4" font-weight="normal" text-anchor="middle" fill="#333" >10 µM</text>
<text x="542.4" y="97.3" font-size="4" font-weight="normal" text-anchor="middle" fill="#333" >100 µM</text>
<text x="486.8" y="104.2" font-size="5.2" font-weight="bold" text-anchor="middle" fill="#111" >[Peptide]</text>
<text transform="translate(416.3,54.3) rotate(-90)" font-size="4.5" text-anchor="middle" fill="#111">Response [%]</text>
<text x="434.3" y="9.1" font-size="5.2" font-weight="bold" text-anchor="start" fill="#111" >Total neurite number per number of cells</text>
<text x="404" y="10.1" font-size="11.4" font-weight="bold" text-anchor="start" fill="#000" >D</text>
<line x1="443.6" y1="23.9" x2="451.6" y2="23.9" stroke="#F5A04F" stroke-width="0.6"/>
<rect x="446.9" y="23.2" width="1.4" height="1.4" fill="#F08A24"/>
<text x="456.1" y="26.05" font-size="6.1" font-weight="normal" text-anchor="start" fill="#111" >ROBO2-A</text>
<line x1="443.6" y1="34.3" x2="451.6" y2="34.3" stroke="#5D9FDD" stroke-width="0.6"/>
<circle cx="447.6" cy="34.3" r="1.15" fill="#1F6FC5"/>
<text x="456.1" y="36.45" font-size="6.1" font-weight="normal" text-anchor="start" fill="#111" >L1-A</text>
<path d="M449.9,73.26 L451.12,73.23 L452.35,73.19 L453.57,73.15 L454.8,73.1 L456.02,73.04 L457.25,72.98 L458.47,72.9 L459.7,72.81 L460.92,72.7 L462.15,72.59 L463.38,72.45 L464.6,72.29 L465.82,72.11 L467.05,71.9 L468.27,71.66 L469.5,71.39 L470.72,71.08 L471.95,70.73 L473.17,70.33 L474.4,69.89 L475.62,69.39 L476.85,68.84 L478.07,68.23 L479.3,67.55 L480.52,66.82 L481.75,66.03 L482.97,65.17 L484.2,64.27 L485.42,63.32 L486.65,62.32 L487.88,61.3 L489.1,60.26 L490.32,59.21 L491.55,58.17 L492.77,57.14 L494,56.13 L495.22,55.17 L496.45,54.25 L497.67,53.38 L498.9,52.57 L500.12,51.82 L501.35,51.12 L502.57,50.49 L503.8,49.92 L505.02,49.41 L506.25,48.95 L507.47,48.54 L508.7,48.17 L509.92,47.85 L511.15,47.57 L512.38,47.32 L513.6,47.1 L514.82,46.91 L516.05,46.75 L517.27,46.6 L518.5,46.48 L519.73,46.37 L520.95,46.28 L522.17,46.2 L523.4,46.13" fill="none" stroke="#F5A04F" stroke-width="0.6"/>
<path d="M449.9,77.49 L451.12,77.48 L452.35,77.47 L453.57,77.45 L454.8,77.43 L456.02,77.41 L457.25,77.38 L458.47,77.35 L459.7,77.31 L460.92,77.27 L462.15,77.21 L463.38,77.15 L464.6,77.07 L465.82,76.97 L467.05,76.86 L468.27,76.72 L469.5,76.56 L470.72,76.37 L471.95,76.15 L473.17,75.88 L474.4,75.56 L475.62,75.2 L476.85,74.77 L478.07,74.28 L479.3,73.72 L480.52,73.08 L481.75,72.37 L482.97,71.58 L484.2,70.71 L485.42,69.77 L486.65,68.78 L487.88,67.73 L489.1,66.66 L490.32,65.57 L491.55,64.49 L492.77,63.44 L494,62.43 L495.22,61.47 L496.45,60.58 L497.67,59.76 L498.9,59.03 L500.12,58.37 L501.35,57.78 L502.57,57.27 L503.8,56.83 L505.02,56.44 L506.25,56.11 L507.47,55.83 L508.7,55.59 L509.92,55.39 L511.15,55.22 L512.38,55.08 L513.6,54.96 L514.82,54.86 L516.05,54.78 L517.27,54.71 L518.5,54.65 L519.73,54.6 L520.95,54.56 L522.17,54.52 L523.4,54.5" fill="none" stroke="#5D9FDD" stroke-width="0.6"/>
<line x1="449.9" y1="75.5" x2="449.9" y2="79" stroke="#7BB0E4" stroke-width="0.45"/>
<line x1="448.7" y1="75.5" x2="451.1" y2="75.5" stroke="#7BB0E4" stroke-width="0.45"/>
<line x1="448.7" y1="79" x2="451.1" y2="79" stroke="#7BB0E4" stroke-width="0.45"/>
<circle cx="449.9" cy="77.4" r="1.15" fill="#1F6FC5"/>
<line x1="468.3" y1="66" x2="468.3" y2="85.3" stroke="#7BB0E4" stroke-width="0.45"/>
<line x1="467.1" y1="66" x2="469.5" y2="66" stroke="#7BB0E4" stroke-width="0.45"/>
<line x1="467.1" y1="85.3" x2="469.5" y2="85.3" stroke="#7BB0E4" stroke-width="0.45"/>
<circle cx="468.3" cy="76.7" r="1.15" fill="#1F6FC5"/>
<line x1="486.7" y1="68.9" x2="486.7" y2="68.9" stroke="#7BB0E4" stroke-width="0.45"/>
<line x1="485.5" y1="68.9" x2="487.9" y2="68.9" stroke="#7BB0E4" stroke-width="0.45"/>
<line x1="485.5" y1="68.9" x2="487.9" y2="68.9" stroke="#7BB0E4" stroke-width="0.45"/>
<circle cx="486.7" cy="68.9" r="1.15" fill="#1F6FC5"/>
<line x1="499.7" y1="49.5" x2="499.7" y2="68.5" stroke="#7BB0E4" stroke-width="0.45"/>
<line x1="498.5" y1="49.5" x2="500.9" y2="49.5" stroke="#7BB0E4" stroke-width="0.45"/>
<line x1="498.5" y1="68.5" x2="500.9" y2="68.5" stroke="#7BB0E4" stroke-width="0.45"/>
<circle cx="499.7" cy="59" r="1.15" fill="#1F6FC5"/>
<line x1="505.1" y1="46.9" x2="505.1" y2="63.4" stroke="#7BB0E4" stroke-width="0.45"/>
<line x1="503.9" y1="46.9" x2="506.3" y2="46.9" stroke="#7BB0E4" stroke-width="0.45"/>
<line x1="503.9" y1="63.4" x2="506.3" y2="63.4" stroke="#7BB0E4" stroke-width="0.45"/>
<circle cx="505.1" cy="55.6" r="1.15" fill="#1F6FC5"/>
<line x1="523.5" y1="46.9" x2="523.5" y2="63.4" stroke="#7BB0E4" stroke-width="0.45"/>
<line x1="522.3" y1="46.9" x2="524.7" y2="46.9" stroke="#7BB0E4" stroke-width="0.45"/>
<line x1="522.3" y1="63.4" x2="524.7" y2="63.4" stroke="#7BB0E4" stroke-width="0.45"/>
<circle cx="523.5" cy="55.2" r="1.15" fill="#1F6FC5"/>
<line x1="449.9" y1="75.5" x2="449.9" y2="79" stroke="#F3B27A" stroke-width="0.45"/>
<line x1="448.7" y1="75.5" x2="451.1" y2="75.5" stroke="#F3B27A" stroke-width="0.45"/>
<line x1="448.7" y1="79" x2="451.1" y2="79" stroke="#F3B27A" stroke-width="0.45"/>
<rect x="449.15" y="76.45" width="1.5" height="1.5" fill="#F08A24"/>
<line x1="468.3" y1="60.8" x2="468.3" y2="72.9" stroke="#F3B27A" stroke-width="0.45"/>
<line x1="467.1" y1="60.8" x2="469.5" y2="60.8" stroke="#F3B27A" stroke-width="0.45"/>
<line x1="467.1" y1="72.9" x2="469.5" y2="72.9" stroke="#F3B27A" stroke-width="0.45"/>
<rect x="467.55" y="66.95" width="1.5" height="1.5" fill="#F08A24"/>
<line x1="486.7" y1="58.2" x2="486.7" y2="66" stroke="#F3B27A" stroke-width="0.45"/>
<line x1="485.5" y1="58.2" x2="487.9" y2="58.2" stroke="#F3B27A" stroke-width="0.45"/>
<line x1="485.5" y1="66" x2="487.9" y2="66" stroke="#F3B27A" stroke-width="0.45"/>
<rect x="485.95" y="61.35" width="1.5" height="1.5" fill="#F08A24"/>
<line x1="505.1" y1="46.5" x2="505.1" y2="52.5" stroke="#F3B27A" stroke-width="0.45"/>
<line x1="503.9" y1="46.5" x2="506.3" y2="46.5" stroke="#F3B27A" stroke-width="0.45"/>
<line x1="503.9" y1="52.5" x2="506.3" y2="52.5" stroke="#F3B27A" stroke-width="0.45"/>
<rect x="504.35" y="48.75" width="1.5" height="1.5" fill="#F08A24"/>
<line x1="523.5" y1="42.6" x2="523.5" y2="48.3" stroke="#F3B27A" stroke-width="0.45"/>
<line x1="522.3" y1="42.6" x2="524.7" y2="42.6" stroke="#F3B27A" stroke-width="0.45"/>
<line x1="522.3" y1="48.3" x2="524.7" y2="48.3" stroke="#F3B27A" stroke-width="0.45"/>
<rect x="522.75" y="44.75" width="1.5" height="1.5" fill="#F08A24"/>
<line x1="28.9" y1="122.5" x2="28.9" y2="209.5" stroke="#999" stroke-width="0.9"/>
<line x1="25.7" y1="199.3" x2="28.9" y2="199.3" stroke="#333" stroke-width="0.6"/>
<text x="25.4" y="201.2" font-size="6.1" font-weight="normal" text-anchor="end" fill="#111" >100</text>
<line x1="25.7" y1="173.7" x2="28.9" y2="173.7" stroke="#333" stroke-width="0.6"/>
<text x="25.4" y="175.6" font-size="6.1" font-weight="normal" text-anchor="end" fill="#111" >150</text>
<line x1="25.7" y1="148.1" x2="28.9" y2="148.1" stroke="#333" stroke-width="0.6"/>
<text x="25.4" y="150" font-size="6.1" font-weight="normal" text-anchor="end" fill="#111" >200</text>
<line x1="25.7" y1="122.5" x2="28.9" y2="122.5" stroke="#333" stroke-width="0.6"/>
<text x="25.4" y="124.4" font-size="6.1" font-weight="normal" text-anchor="end" fill="#111" >250</text>
<line x1="28.45" y1="209.5" x2="115.8" y2="209.5" stroke="#999" stroke-width="0.9"/>
<text transform="translate(10.9,164.6) rotate(-90)" font-size="6.1" text-anchor="middle" fill="#111">Response [%]</text>
<text transform="translate(21.4,118.6) skewX(-3)" font-size="5.2" font-weight="bold" fill="#111">Total neurite length per number of cells</text>
<text x="2.2" y="119.7" font-size="11.4" font-weight="bold" text-anchor="start" fill="#000" >E</text>
<rect x="33.1" y="199.5" width="7.6" height="10" fill="#29C5F0" stroke="#111" stroke-width="0.45"/>
<line x1="36.9" y1="194.9" x2="36.9" y2="199.5" stroke="#222" stroke-width="0.45"/>
<line x1="35.6" y1="194.9" x2="38.2" y2="194.9" stroke="#222" stroke-width="0.7"/>
<path d="M36,194.9 L37.8,194.9 L36.9,196.3 Z" fill="#222"/>
<circle cx="35.4" cy="202.1" r="0.75" fill="#111"/>
<circle cx="38.3" cy="202.6" r="0.75" fill="#111"/>
<circle cx="36.6" cy="203.7" r="0.75" fill="#111"/>
<line x1="36.9" y1="209.5" x2="36.9" y2="212.7" stroke="#444" stroke-width="0.6"/>
<text transform="translate(37.9,217.4) rotate(-45)" font-size="6" text-anchor="end" fill="#1a1a1a" stroke="#1a1a1a" stroke-width="0.06">CTRL</text>
<rect x="44.95" y="191.2" width="7.6" height="18.3" fill="#1672C0" stroke="#111" stroke-width="0.45"/>
<line x1="48.75" y1="186.6" x2="48.75" y2="191.2" stroke="#222" stroke-width="0.45"/>
<line x1="47.45" y1="186.6" x2="50.05" y2="186.6" stroke="#222" stroke-width="0.7"/>
<path d="M47.85,186.6 L49.65,186.6 L48.75,188 Z" fill="#222"/>
<circle cx="46.8" cy="192.8" r="0.75" fill="#111"/>
<circle cx="50.4" cy="192.8" r="0.75" fill="#111"/>
<circle cx="48.6" cy="193.8" r="0.75" fill="#111"/>
<line x1="48.75" y1="209.5" x2="48.75" y2="212.7" stroke="#444" stroke-width="0.6"/>
<text transform="translate(49.75,217.4) rotate(-45)" font-size="6" text-anchor="end" fill="#1a1a1a" stroke="#1a1a1a" stroke-width="0.06">L1-A 500nM</text>
<rect x="56.8" y="175.6" width="7.6" height="33.9" fill="#1779C5" stroke="#111" stroke-width="0.45"/>
<line x1="60.6" y1="172.5" x2="60.6" y2="175.6" stroke="#222" stroke-width="0.45"/>
<line x1="59.3" y1="172.5" x2="61.9" y2="172.5" stroke="#222" stroke-width="0.7"/>
<path d="M59.7,172.5 L61.5,172.5 L60.6,173.9 Z" fill="#222"/>
<circle cx="60.5" cy="171.6" r="0.75" fill="#111"/>
<circle cx="60.5" cy="175.6" r="0.75" fill="#111"/>
<circle cx="60.5" cy="178.7" r="0.75" fill="#111"/>
<line x1="60.6" y1="209.5" x2="60.6" y2="212.7" stroke="#444" stroke-width="0.6"/>
<text transform="translate(61.6,217.4) rotate(-45)" font-size="6" text-anchor="end" fill="#1a1a1a" stroke="#1a1a1a" stroke-width="0.06">L1-A 1µM</text>
<rect x="68.65" y="189" width="7.6" height="20.5" fill="#0C4388" stroke="#111" stroke-width="0.45"/>
<line x1="72.45" y1="185.4" x2="72.45" y2="189" stroke="#222" stroke-width="0.45"/>
<line x1="71.15" y1="185.4" x2="73.75" y2="185.4" stroke="#222" stroke-width="0.7"/>
<path d="M71.55,185.4 L73.35,185.4 L72.45,186.8 Z" fill="#222"/>
<circle cx="71.3" cy="190.6" r="0.75" fill="#111"/>
<circle cx="74.5" cy="190.6" r="0.75" fill="#111"/>
<line x1="72.45" y1="209.5" x2="72.45" y2="212.7" stroke="#444" stroke-width="0.6"/>
<text transform="translate(73.45,217.4) rotate(-45)" font-size="6" text-anchor="end" fill="#1a1a1a" stroke="#1a1a1a" stroke-width="0.06">L1CAM ED 10pM</text>
<rect x="80.5" y="168.9" width="7.6" height="40.6" fill="#0C4489" stroke="#111" stroke-width="0.45"/>
<line x1="84.3" y1="159.8" x2="84.3" y2="168.9" stroke="#222" stroke-width="0.45"/>
<line x1="83" y1="159.8" x2="85.6" y2="159.8" stroke="#222" stroke-width="0.7"/>
<path d="M83.4,159.8 L85.2,159.8 L84.3,161.2 Z" fill="#222"/>
<circle cx="84.2" cy="167.9" r="0.75" fill="#111"/>
<circle cx="84.2" cy="178" r="0.75" fill="#111"/>
<line x1="84.3" y1="209.5" x2="84.3" y2="212.7" stroke="#444" stroke-width="0.6"/>
<text transform="translate(85.3,217.4) rotate(-45)" font-size="6" text-anchor="end" fill="#1a1a1a" stroke="#1a1a1a" stroke-width="0.06">L1CAM ED 1nM</text>
<rect x="92.35" y="179.3" width="7.6" height="30.2" fill="#1C2672" stroke="#111" stroke-width="0.45"/>
<line x1="96.15" y1="171.8" x2="96.15" y2="179.3" stroke="#222" stroke-width="0.45"/>
<line x1="94.85" y1="171.8" x2="97.45" y2="171.8" stroke="#222" stroke-width="0.7"/>
<path d="M95.25,171.8 L97.05,171.8 L96.15,173.2 Z" fill="#222"/>
<circle cx="96.2" cy="168.7" r="0.75" fill="#111"/>
<circle cx="93.2" cy="182.8" r="0.75" fill="#111"/>
<circle cx="98.9" cy="182.8" r="0.75" fill="#111"/>
<circle cx="96.3" cy="185.4" r="0.75" fill="#111"/>
<line x1="96.15" y1="209.5" x2="96.15" y2="212.7" stroke="#444" stroke-width="0.6"/>
<text transform="translate(97.15,217.4) rotate(-45)" font-size="6" text-anchor="end" fill="#1a1a1a" stroke="#1a1a1a" stroke-width="0.06">L1CAM ED 10pM + L1-A 500nM</text>
<rect x="104.2" y="177.2" width="7.6" height="32.3" fill="#1C2672" stroke="#111" stroke-width="0.45"/>
<line x1="108" y1="173.9" x2="108" y2="177.2" stroke="#222" stroke-width="0.45"/>
<line x1="106.7" y1="173.9" x2="109.3" y2="173.9" stroke="#222" stroke-width="0.7"/>
<path d="M107.1,173.9 L108.9,173.9 L108,175.3 Z" fill="#222"/>
<circle cx="108.2" cy="171.3" r="0.75" fill="#111"/>
<circle cx="107.7" cy="179.7" r="0.75" fill="#111"/>
<circle cx="108.2" cy="182.3" r="0.75" fill="#111"/>
<line x1="108" y1="209.5" x2="108" y2="212.7" stroke="#444" stroke-width="0.6"/>
<text transform="translate(109,217.4) rotate(-45)" font-size="6" text-anchor="end" fill="#1a1a1a" stroke="#1a1a1a" stroke-width="0.06">L1CAM ED 1nM + L1-A 1µM</text>
<path d="M48.5,186.5 L48.5,157.7 L60.5,157.7 L60.5,166.7" fill="none" stroke="#555" stroke-width="0.5"/>
<circle cx="53.55" cy="154.1" r="0.75" fill="#111"/>
<circle cx="55.45" cy="154.1" r="0.75" fill="#111"/>
<path d="M72.4,184.4 L72.4,148.4 L84.4,148.4 L84.4,156.5" fill="none" stroke="#555" stroke-width="0.5"/>
<circle cx="77.45" cy="144.5" r="0.75" fill="#111"/>
<circle cx="79.35" cy="144.5" r="0.75" fill="#111"/>
<line x1="165.5" y1="124.9" x2="165.5" y2="211.8" stroke="#999" stroke-width="0.9"/>
<line x1="162.3" y1="211.9" x2="165.5" y2="211.9" stroke="#333" stroke-width="0.6"/>
<text x="162" y="213.8" font-size="6.1" font-weight="normal" text-anchor="end" fill="#111" >80</text>
<line x1="162.3" y1="194.5" x2="165.5" y2="194.5" stroke="#333" stroke-width="0.6"/>
<text x="162" y="196.4" font-size="6.1" font-weight="normal" text-anchor="end" fill="#111" >100</text>
<line x1="162.3" y1="177.1" x2="165.5" y2="177.1" stroke="#333" stroke-width="0.6"/>
<text x="162" y="179" font-size="6.1" font-weight="normal" text-anchor="end" fill="#111" >120</text>
<line x1="162.3" y1="159.7" x2="165.5" y2="159.7" stroke="#333" stroke-width="0.6"/>
<text x="162" y="161.6" font-size="6.1" font-weight="normal" text-anchor="end" fill="#111" >140</text>
<line x1="162.3" y1="142.3" x2="165.5" y2="142.3" stroke="#333" stroke-width="0.6"/>
<text x="162" y="144.2" font-size="6.1" font-weight="normal" text-anchor="end" fill="#111" >160</text>
<line x1="162.3" y1="124.9" x2="165.5" y2="124.9" stroke="#333" stroke-width="0.6"/>
<text x="162" y="126.8" font-size="6.1" font-weight="normal" text-anchor="end" fill="#111" >180</text>
<line x1="165.05" y1="211.8" x2="251.6" y2="211.8" stroke="#999" stroke-width="0.9"/>
<text transform="translate(147,163.7) rotate(-90)" font-size="5.5" text-anchor="middle" fill="#111">Response [%]</text>
<text transform="translate(156.2,117.8) skewX(-3)" font-size="5.2" font-weight="bold" fill="#111">Total neurite number per number of cells</text>
<text x="137.8" y="118.9" font-size="11.4" font-weight="bold" text-anchor="start" fill="#000" >F</text>
<rect x="169" y="194.7" width="7.6" height="17.1" fill="#29C5F0" stroke="#111" stroke-width="0.45"/>
<line x1="172.8" y1="192.1" x2="172.8" y2="194.7" stroke="#222" stroke-width="0.45"/>
<line x1="171.5" y1="192.1" x2="174.1" y2="192.1" stroke="#222" stroke-width="0.7"/>
<path d="M171.9,192.1 L173.7,192.1 L172.8,193.5 Z" fill="#222"/>
<circle cx="171.3" cy="195.2" r="0.75" fill="#111"/>
<circle cx="174.3" cy="195.2" r="0.75" fill="#111"/>
<circle cx="172.8" cy="196" r="0.75" fill="#111"/>
<line x1="172.8" y1="211.8" x2="172.8" y2="215" stroke="#444" stroke-width="0.6"/>
<text transform="translate(173.8,219.7) rotate(-45)" font-size="6" text-anchor="end" fill="#1a1a1a" stroke="#1a1a1a" stroke-width="0.06">CTRL</text>
<rect x="180.85" y="182.4" width="7.6" height="29.4" fill="#1672C0" stroke="#111" stroke-width="0.45"/>
<circle cx="183.3" cy="182.3" r="0.75" fill="#111"/>
<circle cx="186.4" cy="182.1" r="0.75" fill="#111"/>
<line x1="184.65" y1="211.8" x2="184.65" y2="215" stroke="#444" stroke-width="0.6"/>
<text transform="translate(185.65,219.7) rotate(-45)" font-size="6" text-anchor="end" fill="#1a1a1a" stroke="#1a1a1a" stroke-width="0.06">L1A 100nM</text>
<rect x="192.7" y="160" width="7.6" height="51.8" fill="#1779C5" stroke="#111" stroke-width="0.45"/>
<line x1="196.5" y1="149.7" x2="196.5" y2="160" stroke="#222" stroke-width="0.45"/>
<line x1="195.2" y1="149.7" x2="197.8" y2="149.7" stroke="#222" stroke-width="0.7"/>
<path d="M195.6,149.7 L197.4,149.7 L196.5,151.1 Z" fill="#222"/>
<circle cx="196.3" cy="147.1" r="0.75" fill="#111"/>
<circle cx="196.3" cy="157.5" r="0.75" fill="#111"/>
<circle cx="196.3" cy="163.7" r="0.75" fill="#111"/>
<circle cx="196.3" cy="169.9" r="0.75" fill="#111"/>
<line x1="196.5" y1="211.8" x2="196.5" y2="215" stroke="#444" stroke-width="0.6"/>
<text transform="translate(197.5,219.7) rotate(-45)" font-size="6" text-anchor="end" fill="#1a1a1a" stroke="#1a1a1a" stroke-width="0.06">L1A 1µM</text>
<rect x="204.55" y="174.4" width="7.6" height="37.4" fill="#0C4388" stroke="#111" stroke-width="0.45"/>
<line x1="208.35" y1="171" x2="208.35" y2="174.4" stroke="#222" stroke-width="0.45"/>
<line x1="207.05" y1="171" x2="209.65" y2="171" stroke="#222" stroke-width="0.7"/>
<path d="M207.45,171 L209.25,171 L208.35,172.4 Z" fill="#222"/>
<circle cx="206.6" cy="177.1" r="0.75" fill="#111"/>
<circle cx="209.5" cy="176" r="0.75" fill="#111"/>
<line x1="208.35" y1="211.8" x2="208.35" y2="215" stroke="#444" stroke-width="0.6"/>
<text transform="translate(209.35,219.7) rotate(-45)" font-size="6" text-anchor="end" fill="#1a1a1a" stroke="#1a1a1a" stroke-width="0.06">L1CAM ED 1pM</text>
<rect x="216.4" y="156.8" width="7.6" height="55" fill="#0C4489" stroke="#111" stroke-width="0.45"/>
<line x1="220.2" y1="147.7" x2="220.2" y2="156.8" stroke="#222" stroke-width="0.45"/>
<line x1="218.9" y1="147.7" x2="221.5" y2="147.7" stroke="#222" stroke-width="0.7"/>
<path d="M219.3,147.7 L221.1,147.7 L220.2,149.1 Z" fill="#222"/>
<circle cx="220.2" cy="150.4" r="0.75" fill="#111"/>
<circle cx="220.2" cy="155" r="0.75" fill="#111"/>
<circle cx="220.2" cy="158" r="0.75" fill="#111"/>
<line x1="220.2" y1="211.8" x2="220.2" y2="215" stroke="#444" stroke-width="0.6"/>
<text transform="translate(221.2,219.7) rotate(-45)" font-size="6" text-anchor="end" fill="#1a1a1a" stroke="#1a1a1a" stroke-width="0.06">L1CAM ED 1nM</text>
<rect x="228.25" y="154.6" width="7.6" height="57.2" fill="#1C2672" stroke="#111" stroke-width="0.45"/>
<line x1="232.05" y1="138.1" x2="232.05" y2="154.6" stroke="#222" stroke-width="0.45"/>
<line x1="230.75" y1="138.1" x2="233.35" y2="138.1" stroke="#222" stroke-width="0.7"/>
<path d="M231.15,138.1 L232.95,138.1 L232.05,139.5 Z" fill="#222"/>
<circle cx="232" cy="150.2" r="0.75" fill="#111"/>
<circle cx="231.5" cy="156.3" r="0.75" fill="#111"/>
<circle cx="231.8" cy="172.3" r="0.75" fill="#111"/>
<line x1="232.05" y1="211.8" x2="232.05" y2="215" stroke="#444" stroke-width="0.6"/>
<text transform="translate(233.05,219.7) rotate(-45)" font-size="6" text-anchor="end" fill="#1a1a1a" stroke="#1a1a1a" stroke-width="0.06">L1CAM ED 1pM + L1-A 100nM</text>
<rect x="240.1" y="167.1" width="7.6" height="44.7" fill="#1C2672" stroke="#111" stroke-width="0.45"/>
<line x1="243.9" y1="162.5" x2="243.9" y2="167.1" stroke="#222" stroke-width="0.45"/>
<line x1="242.6" y1="162.5" x2="245.2" y2="162.5" stroke="#222" stroke-width="0.7"/>
<path d="M243,162.5 L244.8,162.5 L243.9,163.9 Z" fill="#222"/>
<circle cx="244" cy="165.6" r="0.75" fill="#111"/>
<circle cx="244" cy="171.8" r="0.75" fill="#111"/>
<line x1="243.9" y1="211.8" x2="243.9" y2="215" stroke="#444" stroke-width="0.6"/>
<text transform="translate(244.9,219.7) rotate(-45)" font-size="6" text-anchor="end" fill="#1a1a1a" stroke="#1a1a1a" stroke-width="0.06">L1CAM ED 1nM + L1-A 1µM</text>
<path d="M184.3,181 L184.3,133.5 L196.5,133.5 L196.5,144.4" fill="none" stroke="#555" stroke-width="0.5"/>
<circle cx="190.4" cy="129.3" r="0.8" fill="#111"/>
<path d="M208.3,169.9 L208.3,133.5 L220.3,133.5 L220.3,146.8" fill="none" stroke="#555" stroke-width="0.5"/>
<circle cx="214.3" cy="129.3" r="0.8" fill="#111"/>
<line x1="299.4" y1="126.95" x2="299.4" y2="210.4" stroke="#666" stroke-width="0.7"/>
<line x1="296.2" y1="200.6" x2="299.4" y2="200.6" stroke="#333" stroke-width="0.6"/>
<text x="296.4" y="202.5" font-size="6.1" font-weight="normal" text-anchor="end" fill="#111" >100</text>
<line x1="296.2" y1="176.05" x2="299.4" y2="176.05" stroke="#333" stroke-width="0.6"/>
<text x="296.4" y="177.95" font-size="6.1" font-weight="normal" text-anchor="end" fill="#111" >150</text>
<line x1="296.2" y1="151.5" x2="299.4" y2="151.5" stroke="#333" stroke-width="0.6"/>
<text x="296.4" y="153.4" font-size="6.1" font-weight="normal" text-anchor="end" fill="#111" >200</text>
<line x1="296.2" y1="126.95" x2="299.4" y2="126.95" stroke="#333" stroke-width="0.6"/>
<text x="296.4" y="128.85" font-size="6.1" font-weight="normal" text-anchor="end" fill="#111" >250</text>
<line x1="299.05" y1="210.4" x2="383.8" y2="210.4" stroke="#666" stroke-width="0.7"/>
<text transform="translate(282.6,166.1) rotate(-90)" font-size="6.1" text-anchor="middle" fill="#111">Response [%]</text>
<text transform="translate(296,116.8) skewX(-3)" font-size="5.2" font-weight="bold" fill="#111">Total neurite length per number of cells</text>
<text x="273.6" y="118.3" font-size="11.4" font-weight="bold" text-anchor="start" fill="#000" >G</text>
<rect x="303.55" y="201" width="7.3" height="9.4" fill="#F7C24A" stroke="#111" stroke-width="0.45"/>
<line x1="307.2" y1="196" x2="307.2" y2="201" stroke="#222" stroke-width="0.45"/>
<line x1="305.9" y1="196" x2="308.5" y2="196" stroke="#222" stroke-width="0.7"/>
<path d="M306.3,196 L308.1,196 L307.2,197.4 Z" fill="#222"/>
<circle cx="307.4" cy="197.8" r="0.75" fill="#111"/>
<circle cx="306.1" cy="202.8" r="0.75" fill="#111"/>
<circle cx="308.8" cy="203.6" r="0.75" fill="#111"/>
<line x1="307.2" y1="210.4" x2="307.2" y2="213.6" stroke="#444" stroke-width="0.6"/>
<text transform="translate(308.2,218.3) rotate(-45)" font-size="5.85" text-anchor="end" fill="#1a1a1a" stroke="#1a1a1a" stroke-width="0.06">CTRL</text>
<rect x="315.05" y="183" width="7.3" height="27.4" fill="#FB8408" stroke="#111" stroke-width="0.45"/>
<line x1="318.7" y1="180.7" x2="318.7" y2="183" stroke="#222" stroke-width="0.45"/>
<line x1="317.4" y1="180.7" x2="320" y2="180.7" stroke="#222" stroke-width="0.7"/>
<path d="M317.8,180.7 L319.6,180.7 L318.7,182.1 Z" fill="#222"/>
<circle cx="318.2" cy="182.5" r="0.75" fill="#111"/>
<circle cx="319.2" cy="185.2" r="0.75" fill="#111"/>
<line x1="318.7" y1="210.4" x2="318.7" y2="213.6" stroke="#444" stroke-width="0.6"/>
<text transform="translate(319.7,218.3) rotate(-45)" font-size="5.85" text-anchor="end" fill="#1a1a1a" stroke="#1a1a1a" stroke-width="0.06">ROBO2-A 100nM</text>
<rect x="326.55" y="165.9" width="7.3" height="44.5" fill="#FB8408" stroke="#111" stroke-width="0.45"/>
<circle cx="328.6" cy="164.5" r="0.75" fill="#111"/>
<circle cx="331.3" cy="164.5" r="0.75" fill="#111"/>
<circle cx="330" cy="167.2" r="0.75" fill="#111"/>
<line x1="330.2" y1="210.4" x2="330.2" y2="213.6" stroke="#444" stroke-width="0.6"/>
<text transform="translate(331.2,218.3) rotate(-45)" font-size="5.85" text-anchor="end" fill="#1a1a1a" stroke="#1a1a1a" stroke-width="0.06">ROBO2-A 1µM</text>
<rect x="338.05" y="190.2" width="7.3" height="20.2" fill="#994A0D" stroke="#111" stroke-width="0.45"/>
<line x1="341.7" y1="187" x2="341.7" y2="190.2" stroke="#222" stroke-width="0.45"/>
<line x1="340.4" y1="187" x2="343" y2="187" stroke="#222" stroke-width="0.7"/>
<path d="M340.8,187 L342.6,187 L341.7,188.4 Z" fill="#222"/>
<circle cx="340.3" cy="191.5" r="0.75" fill="#111"/>
<circle cx="343" cy="190.6" r="0.75" fill="#111"/>
<line x1="341.7" y1="210.4" x2="341.7" y2="213.6" stroke="#444" stroke-width="0.6"/>
<text transform="translate(342.7,218.3) rotate(-45)" font-size="5.85" text-anchor="end" fill="#1a1a1a" stroke="#1a1a1a" stroke-width="0.06">L1CAM ED 10pM</text>
<rect x="349.55" y="171.2" width="7.3" height="39.2" fill="#9C4D0E" stroke="#111" stroke-width="0.45"/>
<line x1="353.2" y1="162.2" x2="353.2" y2="171.2" stroke="#222" stroke-width="0.45"/>
<line x1="351.9" y1="162.2" x2="354.5" y2="162.2" stroke="#222" stroke-width="0.7"/>
<path d="M352.3,162.2 L354.1,162.2 L353.2,163.6 Z" fill="#222"/>
<circle cx="352.9" cy="162.7" r="0.75" fill="#111"/>
<circle cx="352" cy="171.7" r="0.75" fill="#111"/>
<circle cx="352.9" cy="180.7" r="0.75" fill="#111"/>
<line x1="353.2" y1="210.4" x2="353.2" y2="213.6" stroke="#444" stroke-width="0.6"/>
<text transform="translate(354.2,218.3) rotate(-45)" font-size="5.85" text-anchor="end" fill="#1a1a1a" stroke="#1a1a1a" stroke-width="0.06">L1CAM ED 1nM</text>
<rect x="361.05" y="175" width="7.3" height="35.4" fill="#9A1010" stroke="#111" stroke-width="0.45"/>
<line x1="364.7" y1="166.3" x2="364.7" y2="175" stroke="#222" stroke-width="0.45"/>
<line x1="363.4" y1="166.3" x2="366" y2="166.3" stroke="#222" stroke-width="0.7"/>
<path d="M363.8,166.3 L365.6,166.3 L364.7,167.7 Z" fill="#222"/>
<circle cx="364.2" cy="178" r="0.75" fill="#111"/>
<circle cx="364.6" cy="180.7" r="0.75" fill="#111"/>
<line x1="364.7" y1="210.4" x2="364.7" y2="213.6" stroke="#444" stroke-width="0.6"/>
<text transform="translate(365.7,218.3) rotate(-45)" font-size="5.85" text-anchor="end" fill="#1a1a1a" stroke="#1a1a1a" stroke-width="0.06">L1CAM ED 10pM + ROBO2-A 100nM</text>
<rect x="372.55" y="160.9" width="7.3" height="49.5" fill="#9A1010" stroke="#111" stroke-width="0.45"/>
<line x1="376.2" y1="150.4" x2="376.2" y2="160.9" stroke="#222" stroke-width="0.45"/>
<line x1="374.9" y1="150.4" x2="377.5" y2="150.4" stroke="#222" stroke-width="0.7"/>
<path d="M375.3,150.4 L377.1,150.4 L376.2,151.8 Z" fill="#222"/>
<circle cx="375.4" cy="160.9" r="0.75" fill="#111"/>
<circle cx="375.8" cy="171.7" r="0.75" fill="#111"/>
<line x1="376.2" y1="210.4" x2="376.2" y2="213.6" stroke="#444" stroke-width="0.6"/>
<text transform="translate(377.2,218.3) rotate(-45)" font-size="5.85" text-anchor="end" fill="#1a1a1a" stroke="#1a1a1a" stroke-width="0.06">L1CAM ED 1nM + ROBO2-A 1µM</text>
<path d="M318.4,180 L318.4,152.5 L329.8,152.5 L329.8,160.2" fill="none" stroke="#555" stroke-width="0.5"/>
<circle cx="323.15" cy="148.5" r="0.75" fill="#111"/>
<circle cx="325.05" cy="148.5" r="0.75" fill="#111"/>
<path d="M341.5,187 L341.5,152 L353.2,152 L353.2,161.8" fill="none" stroke="#555" stroke-width="0.5"/>
<circle cx="347.35" cy="148.5" r="0.8" fill="#111"/>
<line x1="435.5" y1="124" x2="435.5" y2="208.3" stroke="#666" stroke-width="0.7"/>
<line x1="432.3" y1="208.5" x2="435.5" y2="208.5" stroke="#333" stroke-width="0.6"/>
<text x="432" y="210.4" font-size="6.1" font-weight="normal" text-anchor="end" fill="#111" >80</text>
<line x1="432.3" y1="191.6" x2="435.5" y2="191.6" stroke="#333" stroke-width="0.6"/>
<text x="432" y="193.5" font-size="6.1" font-weight="normal" text-anchor="end" fill="#111" >100</text>
<line x1="432.3" y1="174.7" x2="435.5" y2="174.7" stroke="#333" stroke-width="0.6"/>
<text x="432" y="176.6" font-size="6.1" font-weight="normal" text-anchor="end" fill="#111" >120</text>
<line x1="432.3" y1="157.8" x2="435.5" y2="157.8" stroke="#333" stroke-width="0.6"/>
<text x="432" y="159.7" font-size="6.1" font-weight="normal" text-anchor="end" fill="#111" >140</text>
<line x1="432.3" y1="140.9" x2="435.5" y2="140.9" stroke="#333" stroke-width="0.6"/>
<text x="432" y="142.8" font-size="6.1" font-weight="normal" text-anchor="end" fill="#111" >160</text>
<line x1="432.3" y1="124" x2="435.5" y2="124" stroke="#333" stroke-width="0.6"/>
<text x="432" y="125.9" font-size="6.1" font-weight="normal" text-anchor="end" fill="#111" >180</text>
<line x1="435.15" y1="208.3" x2="519.5" y2="208.3" stroke="#666" stroke-width="0.7"/>
<text transform="translate(417.2,166.2) rotate(-90)" font-size="6.1" text-anchor="middle" fill="#111">Response [%]</text>
<text transform="translate(431.8,116.9) skewX(-3)" font-size="5.2" font-weight="bold" fill="#111">Total neurite number per number of cells</text>
<text x="407.4" y="117.9" font-size="11.4" font-weight="bold" text-anchor="start" fill="#000" >H</text>
<rect x="439.35" y="191.6" width="7.3" height="16.7" fill="#F7C24A" stroke="#111" stroke-width="0.45"/>
<line x1="443" y1="188.9" x2="443" y2="191.6" stroke="#222" stroke-width="0.45"/>
<line x1="441.7" y1="188.9" x2="444.3" y2="188.9" stroke="#222" stroke-width="0.7"/>
<path d="M442.1,188.9 L443.9,188.9 L443,190.3 Z" fill="#222"/>
<circle cx="442" cy="190.5" r="0.75" fill="#111"/>
<circle cx="444.5" cy="190.5" r="0.75" fill="#111"/>
<line x1="443" y1="208.3" x2="443" y2="211.5" stroke="#444" stroke-width="0.6"/>
<text transform="translate(444,216.2) rotate(-45)" font-size="5.8" text-anchor="end" fill="#1a1a1a" stroke="#1a1a1a" stroke-width="0.06">CTRL</text>
<rect x="450.85" y="171.4" width="7.3" height="36.9" fill="#FB8408" stroke="#111" stroke-width="0.45"/>
<line x1="454.5" y1="165" x2="454.5" y2="171.4" stroke="#222" stroke-width="0.45"/>
<line x1="453.2" y1="165" x2="455.8" y2="165" stroke="#222" stroke-width="0.7"/>
<path d="M453.6,165 L455.4,165 L454.5,166.4 Z" fill="#222"/>
<circle cx="454" cy="168.2" r="0.75" fill="#111"/>
<circle cx="454" cy="176.3" r="0.75" fill="#111"/>
<line x1="454.5" y1="208.3" x2="454.5" y2="211.5" stroke="#444" stroke-width="0.6"/>
<text transform="translate(455.5,216.2) rotate(-45)" font-size="5.8" text-anchor="end" fill="#1a1a1a" stroke="#1a1a1a" stroke-width="0.06">ROBO2A 100nM</text>
<rect x="462.35" y="154.2" width="7.3" height="54.1" fill="#FB8408" stroke="#111" stroke-width="0.45"/>
<line x1="466" y1="148.4" x2="466" y2="154.2" stroke="#222" stroke-width="0.45"/>
<line x1="464.7" y1="148.4" x2="467.3" y2="148.4" stroke="#222" stroke-width="0.7"/>
<path d="M465.1,148.4 L466.9,148.4 L466,149.8 Z" fill="#222"/>
<circle cx="465.7" cy="151.6" r="0.75" fill="#111"/>
<circle cx="467" cy="157.4" r="0.75" fill="#111"/>
<circle cx="465.7" cy="159.2" r="0.75" fill="#111"/>
<line x1="466" y1="208.3" x2="466" y2="211.5" stroke="#444" stroke-width="0.6"/>
<text transform="translate(467,216.2) rotate(-45)" font-size="5.8" text-anchor="end" fill="#1a1a1a" stroke="#1a1a1a" stroke-width="0.06">ROBO2A 1µM</text>
<rect x="473.85" y="172.2" width="7.3" height="36.1" fill="#994A0D" stroke="#111" stroke-width="0.45"/>
<line x1="477.5" y1="168.2" x2="477.5" y2="172.2" stroke="#222" stroke-width="0.45"/>
<line x1="476.2" y1="168.2" x2="478.8" y2="168.2" stroke="#222" stroke-width="0.7"/>
<path d="M476.6,168.2 L478.4,168.2 L477.5,169.6 Z" fill="#222"/>
<circle cx="475.5" cy="173.5" r="0.75" fill="#111"/>
<circle cx="479" cy="173.5" r="0.75" fill="#111"/>
<line x1="477.5" y1="208.3" x2="477.5" y2="211.5" stroke="#444" stroke-width="0.6"/>
<text transform="translate(478.5,216.2) rotate(-45)" font-size="5.8" text-anchor="end" fill="#1a1a1a" stroke="#1a1a1a" stroke-width="0.06">L1CAM ED 1pM</text>
<rect x="485.35" y="155.2" width="7.3" height="53.1" fill="#9C4D0E" stroke="#111" stroke-width="0.45"/>
<line x1="489" y1="146.6" x2="489" y2="155.2" stroke="#222" stroke-width="0.45"/>
<line x1="487.7" y1="146.6" x2="490.3" y2="146.6" stroke="#222" stroke-width="0.7"/>
<path d="M488.1,146.6 L489.9,146.6 L489,148 Z" fill="#222"/>
<circle cx="488.6" cy="152" r="0.75" fill="#111"/>
<circle cx="488.6" cy="164.6" r="0.75" fill="#111"/>
<line x1="489" y1="208.3" x2="489" y2="211.5" stroke="#444" stroke-width="0.6"/>
<text transform="translate(490,216.2) rotate(-45)" font-size="5.8" text-anchor="end" fill="#1a1a1a" stroke="#1a1a1a" stroke-width="0.06">L1CAM ED 1nM</text>
<rect x="496.85" y="161.9" width="7.3" height="46.4" fill="#9A1010" stroke="#111" stroke-width="0.45"/>
<line x1="500.5" y1="147.5" x2="500.5" y2="161.9" stroke="#222" stroke-width="0.45"/>
<line x1="499.2" y1="147.5" x2="501.8" y2="147.5" stroke="#222" stroke-width="0.7"/>
<path d="M499.6,147.5 L501.4,147.5 L500.5,148.9 Z" fill="#222"/>
<circle cx="499.9" cy="158.3" r="0.75" fill="#111"/>
<circle cx="499.4" cy="172.7" r="0.75" fill="#111"/>
<line x1="500.5" y1="208.3" x2="500.5" y2="211.5" stroke="#444" stroke-width="0.6"/>
<text transform="translate(501.5,216.2) rotate(-45)" font-size="5.8" text-anchor="end" fill="#1a1a1a" stroke="#1a1a1a" stroke-width="0.06">L1CAM ED 1pM + ROBO2-A 100nM</text>
<rect x="508.35" y="149.8" width="7.3" height="58.5" fill="#9A1010" stroke="#111" stroke-width="0.45"/>
<line x1="512" y1="133.1" x2="512" y2="149.8" stroke="#222" stroke-width="0.45"/>
<line x1="510.7" y1="133.1" x2="513.3" y2="133.1" stroke="#222" stroke-width="0.7"/>
<path d="M511.1,133.1 L512.9,133.1 L512,134.5 Z" fill="#222"/>
<circle cx="509.8" cy="140.3" r="0.75" fill="#111"/>
<circle cx="512.5" cy="141.2" r="0.75" fill="#111"/>
<circle cx="511.6" cy="168.2" r="0.75" fill="#111"/>
<line x1="512" y1="208.3" x2="512" y2="211.5" stroke="#444" stroke-width="0.6"/>
<text transform="translate(513,216.2) rotate(-45)" font-size="5.8" text-anchor="end" fill="#1a1a1a" stroke="#1a1a1a" stroke-width="0.06">L1CAM ED 1nM + ROBO2-A 1µM</text>
<path d="M454.3,163.7 L454.3,133.2 L466.2,133.2 L466.2,143.9" fill="none" stroke="#555" stroke-width="0.5"/>
<circle cx="460.25" cy="128.8" r="0.8" fill="#111"/>
<path d="M476.8,167.8 L476.8,133.2 L488.6,133.2 L488.6,144.4" fill="none" stroke="#555" stroke-width="0.5"/>
<circle cx="482.7" cy="128.8" r="0.8" fill="#111"/>
</svg></body></html>
